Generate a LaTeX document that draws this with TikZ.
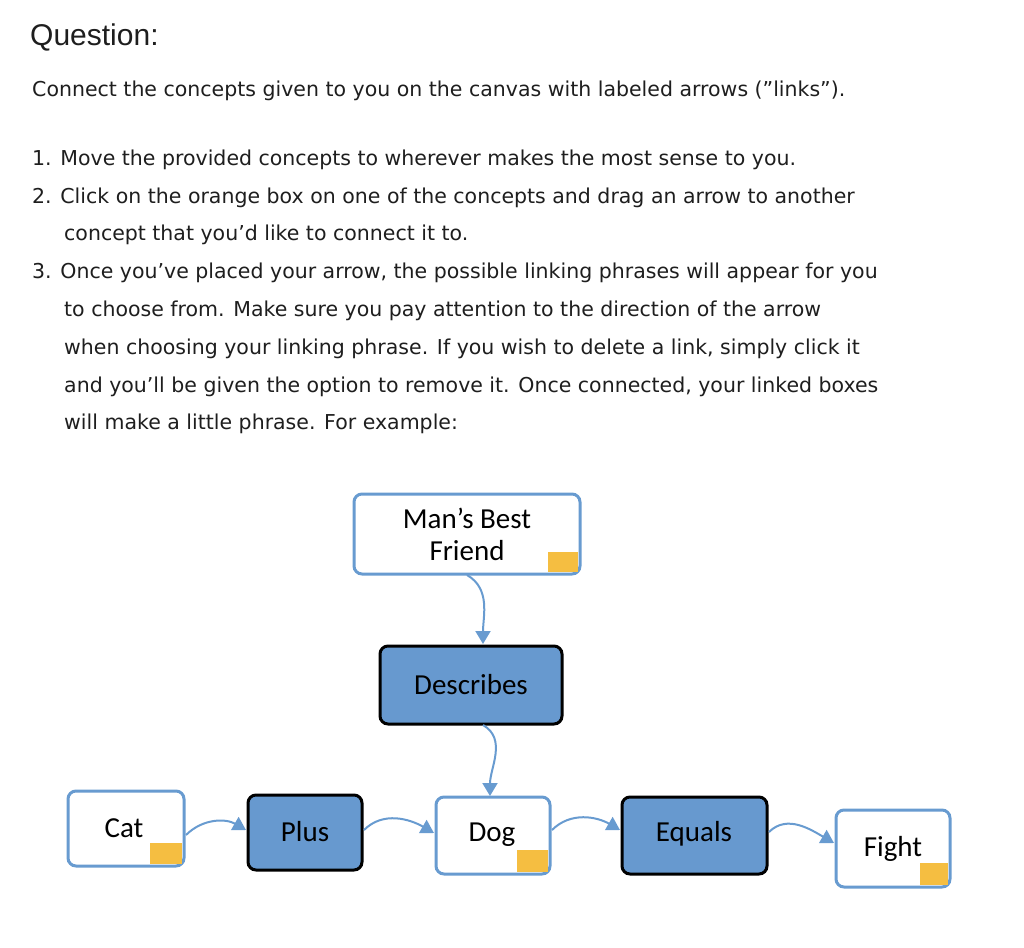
\documentclass[tikz,border=0pt]{standalone}
\usepackage{fontspec}
\setmainfont{DejaVu Sans}
\newfontfamily\titlefont{Liberation Sans}
\newfontfamily\boxfont{Carlito}
\usetikzlibrary{arrows.meta}
\definecolor{lblue}{RGB}{104,155,208}
\definecolor{cfill}{RGB}{103,153,207}
\definecolor{orng}{RGB}{245,190,65}
\definecolor{txt}{RGB}{30,30,30}
\tikzset{
 concept/.style={draw=lblue,line width=3pt,rounded corners=8pt,fill=white},
 linker/.style={draw=black,line width=3pt,rounded corners=8pt,fill=cfill},
 lbl/.style={font=\boxfont\fontsize{29}{36}\selectfont,text=black,align=center},
 para/.style={anchor=base west,inner sep=0pt,font=\fontsize{20.5}{24}\selectfont,text=txt},
 conn/.style={draw=lblue,line width=2pt,-{Triangle[width=15pt,length=13pt]}}
}
\begin{document}
\begin{tikzpicture}[x=1pt,y=-1pt]
\useasboundingbox (0,0) rectangle (1024,947);
\node[anchor=base west,inner sep=0pt,font=\titlefont\fontsize{30}{36}\selectfont,text=txt] (t) at (30,46) {Question:};
\node[para] (p0) at (32,97) {Connect the concepts given to you on the canvas with labeled arrows ("links").};
\node[para] (p1) at (32,165) {1. Move the provided concepts to wherever makes the most sense to you.};
\node[para] (p2) at (32,203) {2. Click on the orange box on one of the concepts and drag an arrow to another};
\node[para] (p2b) at (64,240) {concept that you'd like to connect it to.};
\node[para] (p3) at (32,278) {3. Once you've placed your arrow, the possible linking phrases will appear for you};
\node[para] (p3b) at (64,316) {to choose from. Make sure you pay attention to the direction of the arrow};
\node[para] (p3c) at (64,354) {when choosing your linking phrase. If you wish to delete a link, simply click it};
\node[para] (p3d) at (64,392) {and you'll be given the option to remove it. Once connected, your linked boxes};
\node[para] (p3e) at (64,429) {will make a little phrase. For example:};
% boxes
\draw[concept] (354,494) rectangle (580,574);
\fill[orng] (548,552) rectangle (578,572);
\node[lbl] (mbf) at (467,534) {Man’s Best\\[-4pt]Friend};
\coordinate (mbfb) at (467,575);
\draw[linker] (380,646) rectangle (562,724);
\node[lbl] (des) at (471,685) {Describes};
\draw[concept] (68,791) rectangle (184,866);
\fill[orng] (150,843) rectangle (182,864);
\node[lbl] (cat) at (124,828) {Cat};
\draw[linker] (248,795) rectangle (362,870);
\node[lbl] (plus) at (305,832) {Plus};
\draw[concept] (436,797) rectangle (550,874);
\fill[orng] (517,850) rectangle (548,872);
\node[lbl] (dog) at (492,835) {Dog};
\draw[linker] (622,797) rectangle (767,874);
\node[lbl] (eq) at (694,834) {Equals};
\draw[concept] (836,810) rectangle (950,887);
\fill[orng] (920,863) rectangle (948,885);
\node[lbl] (fight) at (893,849) {Fight};
% connectors
\coordinate (desT) at (483,644);
\coordinate (desB) at (483,725);
\coordinate (dogT) at (490,796);
\coordinate (catR) at (186,835);
\coordinate (plusL) at (246,830);
\coordinate (plusR) at (364,830);
\coordinate (dogL) at (434,833);
\coordinate (dogR) at (552,830);
\coordinate (eqL) at (620,830);
\coordinate (eqR) at (769,832);
\coordinate (fL) at (834,843);
\draw[conn] (mbfb) to[out=-30,in=90] (desT);
\draw[conn] (desB) to[out=-30,in=90] (dogT);
\draw[conn] (catR) to[out=45,in=150] (plusL);
\draw[conn] (plusR) to[out=45,in=150] (dogL);
\draw[conn] (dogR) to[out=45,in=150] (eqL);
\draw[conn] (eqR) to[out=45,in=150] (fL);
\end{tikzpicture}
\end{document}
